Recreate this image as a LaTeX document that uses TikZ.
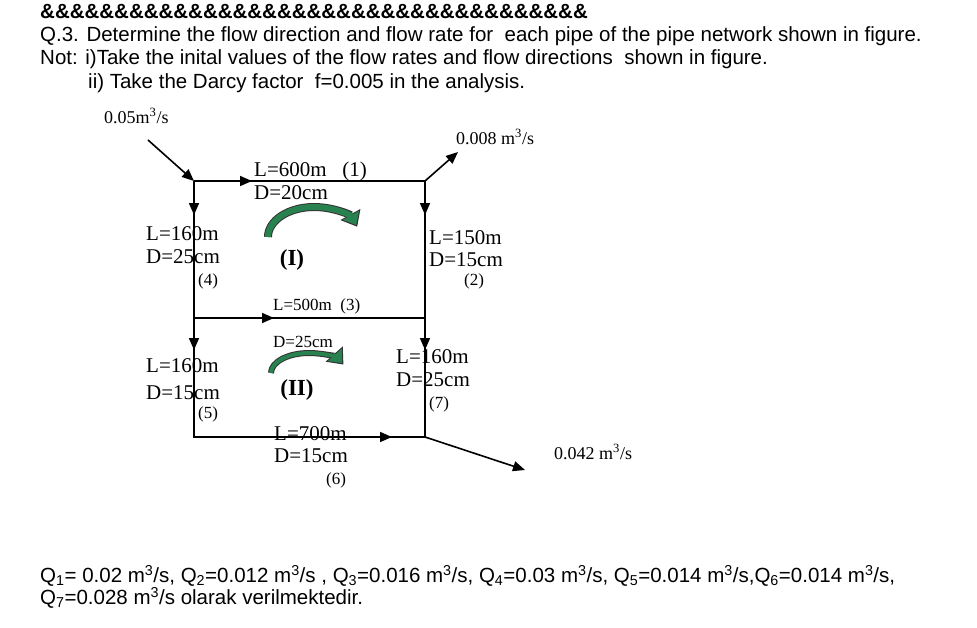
\documentclass[tikz,border=0pt]{standalone}
\usepackage{fontspec}
\setmainfont{Liberation Serif}
\newfontfamily\arialf{Liberation Sans}
\usetikzlibrary{arrows.meta}
\usetikzlibrary{positioning}
\definecolor{loopgreen}{RGB}{40, 130, 80}
\tikzset{
  pipe/.style={line width=1.3pt},
  flow/.style={line width=1.6pt, -{Triangle[length=12pt,width=10pt]}},
  lbl/.style={font=\fontsize{21}{21}\selectfont, inner sep=0pt, anchor=west},
  sml/.style={font=\fontsize{17}{17}\selectfont, inner sep=0pt, anchor=west},
  qlbl/.style={font=\fontsize{18}{18}\selectfont, inner sep=0pt, anchor=west},
  hdr/.style={font=\arialf\fontsize{20.5}{20.5}\selectfont, inner sep=0pt, anchor=west},
  turn/.style={line width=8pt, draw=black!80, -{Triangle[length=14pt,width=22pt]}},
  turnin/.style={line width=6pt, draw=loopgreen, shorten >=2pt, -{Triangle[length=11pt,width=18pt]}}
}
\begin{document}
\begin{tikzpicture}[x=1pt,y=-1pt]
  \useasboundingbox (0,0) rectangle (977,627);
  % text above
  \node[hdr, font=\arialf\bfseries\fontsize{20.5}{20.5}\selectfont] (amp) at (40,12) {\&\&\&\&\&\&\&\&\&\&\&\&\&\&\&\&\&\&\&\&\&\&\&\&\&\&\&\&\&\&\&\&\&\&\&\&\&};
  \node[hdr] (q3) at (40,36) {Q.3. Determine the flow direction and flow rate for\ \ each pipe of the pipe network shown in figure.};
  \node[hdr] (not1) at (40,59) {Not: i)Take the inital values of the flow rates and flow directions\ \ shown in figure.};
  \node[hdr] (not2) at (88,83) {ii) Take the Darcy factor\ \ f=0.005 in the analysis.};
  % junctions
  \coordinate (A) at (194,181);
  \coordinate (B) at (425,181);
  \coordinate (C) at (194,318);
  \coordinate (D) at (425,318);
  \coordinate (E) at (194,437);
  \coordinate (F) at (425,437);
  \coordinate (in) at (148,140);
  \coordinate (out1) at (458,152);
  \coordinate (out2) at (525,470);
  % pipes
  \draw[pipe] (A) -- (B) -- (D) -- (F) -- (E) -- (C) -- (A);
  \draw[pipe] (C) -- (D);
  \draw[flow] (in) -- (A);
  \draw[flow] (B) -- (out1);
  \draw[flow] (F) -- (out2);
  % direction marks
  \draw[flow] (A) ++(38,0) -- ++(20,0);
  \draw[flow] (A) ++(0,8) -- ++(0,26);
  \draw[flow] (B) ++(0,8) -- ++(0,26);
  \draw[flow] (C) ++(66,0) -- ++(14,0);
  \draw[flow] (C) ++(0,4) -- ++(0,28);
  \draw[flow] (D) ++(0,4) -- ++(0,28);
  \draw[flow] (E) ++(166,0) -- ++(32,0);
  % loop arrows
  \draw[turn] (268,237) arc[start angle=180, end angle=20, x radius=46, y radius=-30];
  \draw[turnin] (268,237) arc[start angle=180, end angle=20, x radius=46, y radius=-30];
  \draw[turn, line width=6pt] (271,373) arc[start angle=180, end angle=25, x radius=38, y radius=-20];
  \draw[turnin, line width=4pt] (271,373) arc[start angle=180, end angle=25, x radius=38, y radius=-20];
  \node[font=\bfseries\fontsize{23}{23}\selectfont] (l1) at (292,260) {(I)};
  \node[font=\bfseries\fontsize{23}{23}\selectfont] (l2) at (297,390) {(II)};
  % flows
  \node[qlbl] (qin) at (104,116) {0.05m\textsuperscript{3}/s};
  \node[qlbl] (qo1) at (456,137) {0.008 m\textsuperscript{3}/s};
  \node[qlbl] (qo2) at (554,452) {0.042 m\textsuperscript{3}/s};
  % pipe data
  \node[lbl] (p1a) at (254,171) {L=600m\ \ \ (1)};
  \node[lbl] (p1b) at (254,193) {D=20cm};
  \node[lbl] (p4a) at (146,234) {L=160m};
  \node[lbl] (p4b) at (146,257) {D=25cm};
  \node[sml] (p4c) at (198,281) {(4)};
  \node[lbl] (p2a) at (429,238) {L=150m};
  \node[lbl] (p2b) at (429,260) {D=15cm};
  \node[sml] (p2c) at (464,281) {(2)};
  \node[sml] (p3a) at (273,306) {L=500m\ \ (3)};
  \node[sml] (p3b) at (273,342) {D=25cm};
  \node[lbl] (p5a) at (146,366) {L=160m};
  \node[lbl] (p5b) at (146,393) {D=15cm};
  \node[sml] (p5c) at (198,414) {(5)};
  \node[lbl] (p7a) at (396,357) {L=160m};
  \node[lbl] (p7b) at (396,380) {D=25cm};
  \node[sml] (p7c) at (429,404) {(7)};
  \node[lbl] (p6a) at (274,434) {L=700m};
  \node[lbl] (p6b) at (274,456) {D=15cm};
  \node[sml] (p6c) at (326,480) {(6)};
  % text below
  \node[hdr] (given1) at (40,576) {Q\textsubscript{1}= 0.02 m\textsuperscript{3}/s, Q\textsubscript{2}=0.012 m\textsuperscript{3}/s , Q\textsubscript{3}=0.016 m\textsuperscript{3}/s, Q\textsubscript{4}=0.03 m\textsuperscript{3}/s, Q\textsubscript{5}=0.014 m\textsuperscript{3}/s,Q\textsubscript{6}=0.014 m\textsuperscript{3}/s,};
  \node[hdr] (given2) at (40,598) {Q\textsubscript{7}=0.028 m\textsuperscript{3}/s olarak verilmektedir.};
\end{tikzpicture}
\end{document}
